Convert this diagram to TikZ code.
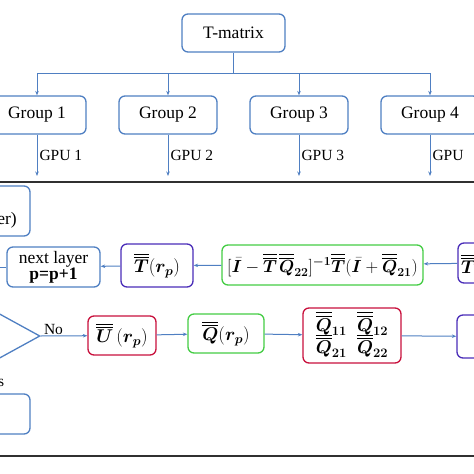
\documentclass[tikz,border=0pt]{standalone}
\usepackage{fix-cm}
\usepackage{amsmath,bm}
\usepackage{fontspec}
\setmainfont{Liberation Serif}
\usepackage{tikz}
\usetikzlibrary{shapes.geometric, arrows.meta, positioning}
\definecolor{lineblue}{HTML}{4F7FC2}
\definecolor{boxpurple}{HTML}{4A2DB8}
\definecolor{boxgreen}{HTML}{44CC44}
\definecolor{boxred}{HTML}{C8103C}
\definecolor{sepgray}{HTML}{303030}
\newcommand{\dblbar}[1]{\overline{\overline{#1}}}

\begin{document}
\begin{tikzpicture}[x=1pt, y=-1pt, >={Stealth[length=4.5pt,width=3.5pt]},
    box/.style={draw, rounded corners=6pt, line width=1.3pt, align=center, inner sep=1pt,
        font=\fontsize{17.5}{18}\selectfont},
    bluebox/.style={box, draw=lineblue},
    purplebox/.style={box, draw=boxpurple},
    greenbox/.style={box, draw=boxgreen},
    redbox/.style={box, draw=boxred},
    mathbox/.style={font=\fontsize{18.5}{19}\selectfont},
    link/.style={draw=lineblue, line width=1pt},
    lbl/.style={font=\fontsize{15.5}{17}\selectfont, inner sep=2pt},
    sepline/.style={draw=sepgray, line width=1.8pt}]
    \useasboundingbox (0,0) rectangle (474,474);
    \clip (0,0) rectangle (474,474);

    % top: T-matrix split into groups
    \node[bluebox, minimum width=103pt, minimum height=38pt] (tmat) at (233.5,33) {T-matrix};
    \coordinate (split) at (233.5,73);
    \foreach \i/\x in {1/37, 2/168, 3/299, 4/430}
        \node[bluebox, minimum width=98pt, minimum height=38pt] (g\i) at (\x,115) {Group \i};
    \draw[link] (tmat) -- (split);
    \foreach \i in {1,...,4}
        \draw[link, ->] (split) -| (g\i);

    % GPU arrows
    \foreach \i/\x in {1/37, 2/168, 3/299, 4/430}
        \coordinate (e\i) at (\x,176);
    \draw[link, ->] (g1) -- (e1) node[midway, right, lbl] {GPU 1};
    \draw[link, ->] (g2) -- (e2) node[midway, right, lbl] {GPU 2};
    \draw[link, ->] (g3) -- (e3) node[midway, right, lbl] {GPU 3};
    \draw[link, ->] (g4) -- (e4) node[midway, right, lbl] {GPU};

    \coordinate (s1) at (0,182);
    \coordinate (s2) at (474,182);
    \draw[sepline] (s1) -- (s2);

    % loop over layers
    \node[bluebox, minimum width=100pt, minimum height=50pt] (init) at (-20,211) {};
    \node[font=\fontsize{17.5}{18}\selectfont, anchor=east, inner sep=0pt] (initTxt) at (17,220) {er)};

    \node[bluebox, minimum width=93pt, minimum height=40pt] (next) at (53.5,267)
        {next layer\\[-2pt]\textbf{p=p+1}};
    \node[purplebox, mathbox, minimum width=72pt, minimum height=43pt] (tbox) at (157,265.5)
        {$\dblbar{\bm{T}}(\bm{r_p})$};
    \node[greenbox, minimum width=201pt, minimum height=40pt] (gform) at (322.5,265)
        {$[\bar{\bm{I}}-\dblbar{\bm{T}}\mkern2mu\dblbar{\bm{Q}}_{\bm{22}}]^{\bm{-1}}
          \dblbar{\bm{T}}(\bar{\bm{I}}+\dblbar{\bm{Q}}_{\bm{21}})$};
    \node[purplebox, minimum width=72pt, minimum height=40pt] (tright) at (494,263) {};
    \node[mathbox, anchor=west, inner sep=0pt] (trightTxt) at (461,264)
        {$\dblbar{\bm{T}}$};
    \coordinate (prev) at (-20,267);
    \draw[link, ->] (tright) -- (gform);
    \draw[link, ->] (gform) -- (tbox);
    \draw[link, ->] (tbox) -- (next);
    \draw[link, ->] (next) -- (prev);

    % check and scattering matrices
    \node[draw=lineblue, line width=1.3pt, diamond, minimum width=120pt, minimum height=66pt,
        inner sep=0pt] (check) at (-20,336) {};
    \node[redbox, mathbox, minimum width=68pt, minimum height=39pt] (ubox) at (122,335.5)
        {$\dblbar{\bm{U}}\,(\bm{r_p})$};
    \node[greenbox, mathbox, minimum width=76pt, minimum height=39pt] (qbox) at (226,333.5)
        {$\dblbar{\bm{Q}}(\bm{r_p})$};
    \node[redbox, mathbox, minimum width=98pt, minimum height=55pt] (qmat) at (352,335.5)
        {$\begin{matrix}\dblbar{\bm{Q}}_{\bm{11}} & \dblbar{\bm{Q}}_{\bm{12}}\\[-3pt]
          \dblbar{\bm{Q}}_{\bm{21}} & \dblbar{\bm{Q}}_{\bm{22}}\end{matrix}$};
    \node[purplebox, minimum width=72pt, minimum height=43pt] (pright) at (493,336.5) {};
    \node[bluebox, minimum width=100pt, minimum height=40pt] (done) at (-20,414) {};

    \draw[link, ->] (check.east) -- (ubox) node[pos=0.04, above right, lbl, inner sep=1pt] {No};
    \draw[link, ->] (check.south) -- (done) node[midway, right, lbl, inner sep=1pt] {Yes};
    \draw[link, ->] (ubox) -- (qbox);
    \draw[link, ->] (qbox) -- (qmat);
    \draw[link, ->] (qmat) -- (pright);

    \coordinate (b1) at (0,456);
    \coordinate (b2) at (474,456);
    \draw[sepline] (b1) -- (b2);
\end{tikzpicture}
\end{document}
